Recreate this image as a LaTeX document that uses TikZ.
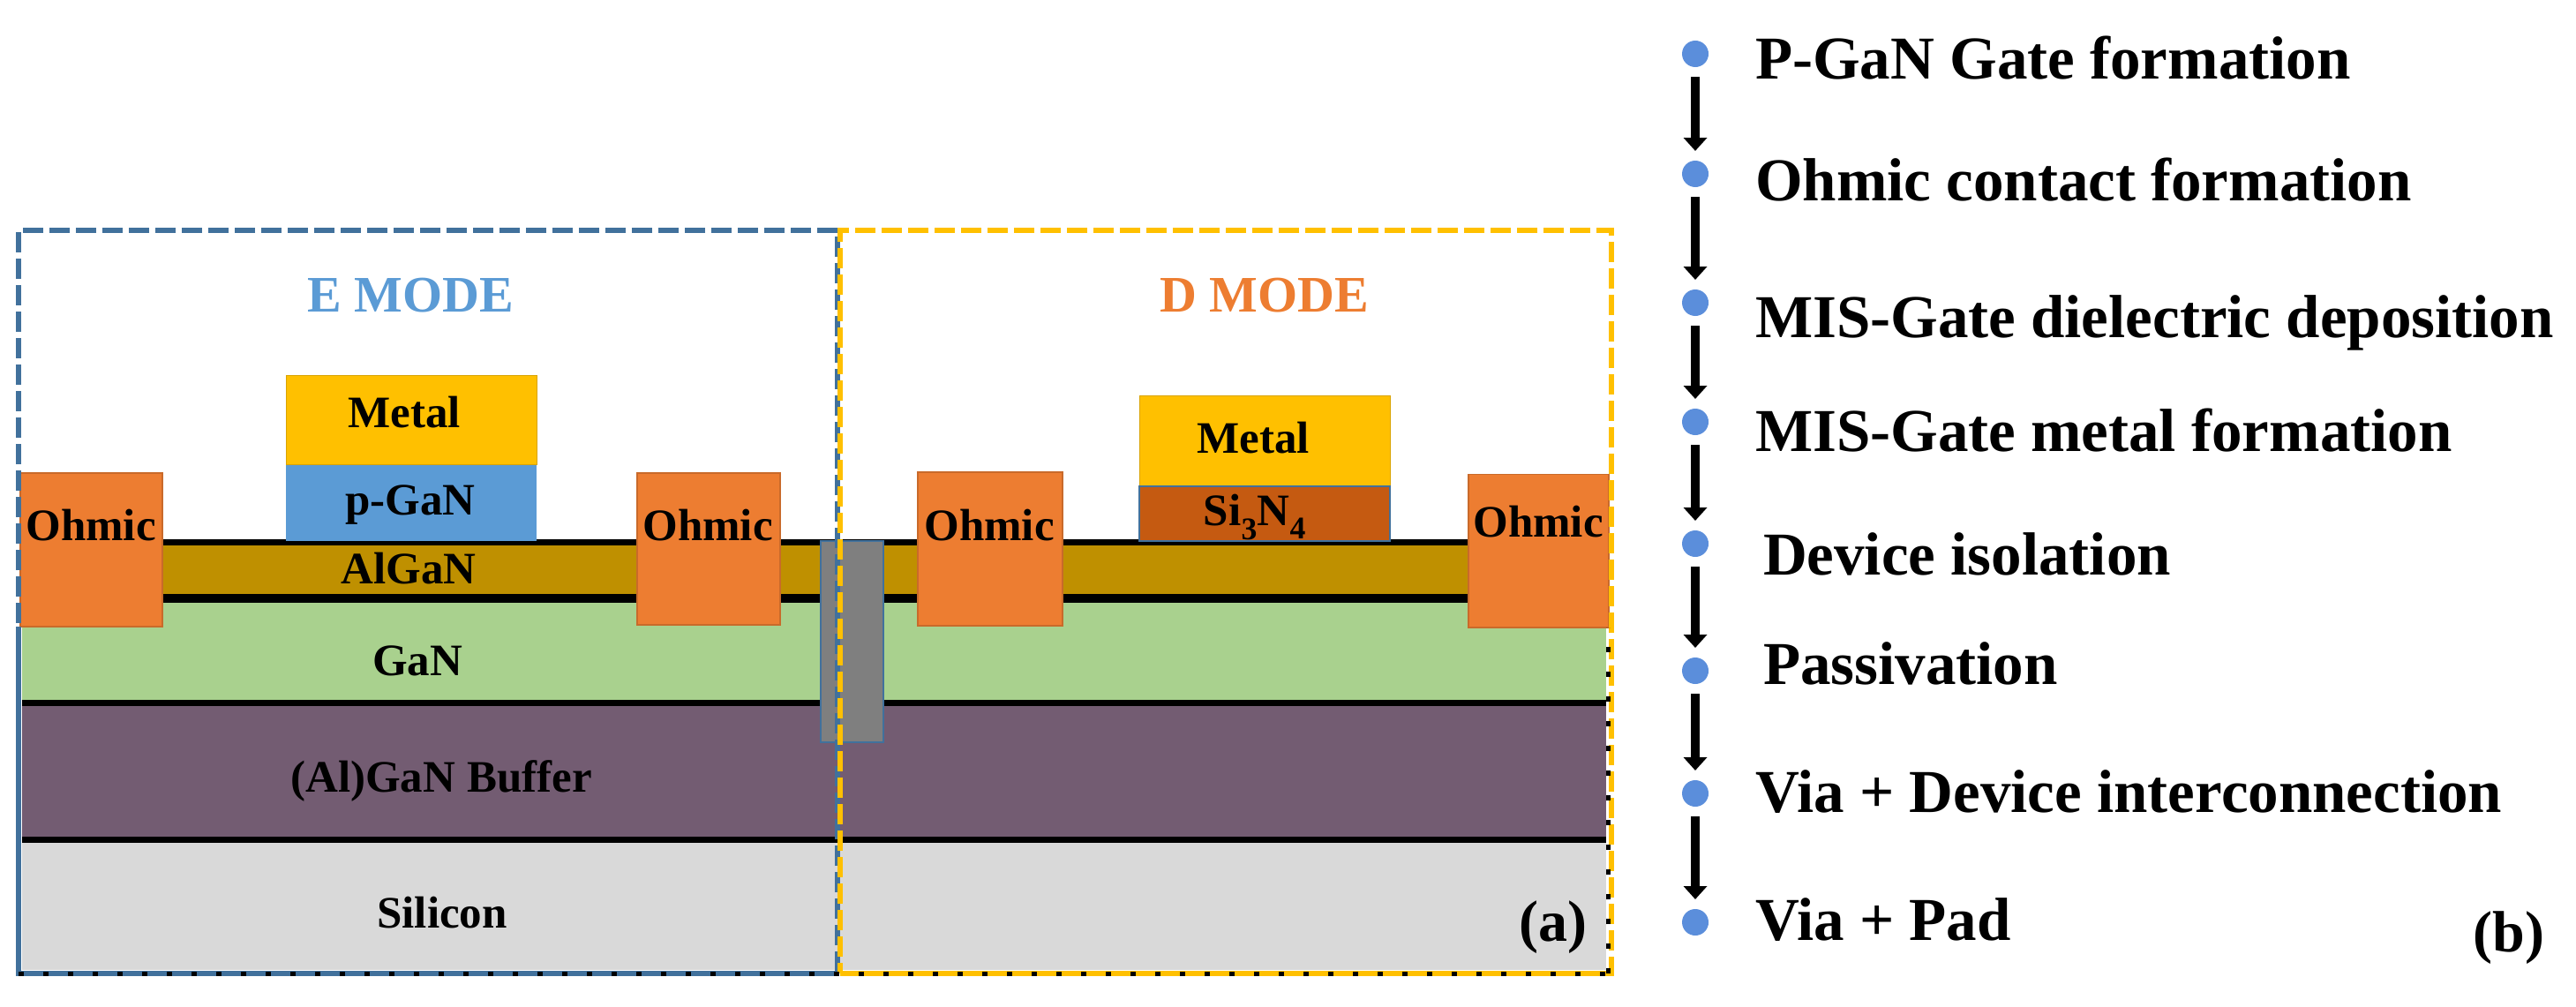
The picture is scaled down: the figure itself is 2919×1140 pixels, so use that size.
\documentclass[tikz,border=0pt]{standalone}
\usepackage{fontspec}
\setmainfont{Liberation Serif}
\usepackage{tikz}
\usetikzlibrary{positioning,arrows.meta,shapes}

\definecolor{metalcol}{HTML}{FFC000}
\definecolor{pgancol}{HTML}{5B9BD5}
\definecolor{ohmiccol}{HTML}{ED7D31}
\definecolor{algancol}{HTML}{BF9000}
\definecolor{gancol}{HTML}{A9D18E}
\definecolor{buffercol}{HTML}{735C72}
\definecolor{siliconcol}{HTML}{D9D9D9}
\definecolor{nitridecol}{HTML}{C55A11}
\definecolor{viacol}{HTML}{7F7F7F}
\definecolor{framecol}{HTML}{41719C}
\definecolor{dotcol}{HTML}{5B8EDB}

\begin{document}
\begin{tikzpicture}[
  x=1pt, y=-1pt,
  every node/.style={inner sep=0pt, outer sep=0pt},
  layer/.style={rectangle, minimum width=#1},
  layer/.default=1795pt,
  contact/.style={rectangle, fill=ohmiccol, draw=ohmiccol!85!black, line width=1.5pt},
  gate/.style={rectangle, minimum width=284pt},
  isolation/.style={rectangle, fill=viacol, draw=framecol, line width=2pt},
  interface/.style={line width=7pt, black},
  eframe/.style={rectangle, draw=framecol, line width=5.5pt, dash pattern=on 23pt off 7pt},
  dframe/.style={rectangle, draw=metalcol, line width=5.5pt, dash pattern=on 23pt off 7pt},
  dots/.style={line width=5pt, black, dash pattern=on 6pt off 22pt},
  txt/.style={font=\fontsize{51}{60}\selectfont\bfseries, text=black},
  mode/.style={font=\fontsize{58}{66}\selectfont\bfseries},
  stepdot/.style={circle, fill=dotcol, minimum size=30pt},
  steptxt/.style={anchor=base west, font=\fontsize{69}{80}\selectfont\bfseries},
  panel/.style={font=\fontsize{66}{76}\selectfont\bfseries},
  arrow/.style={-{Triangle[width=26pt,length=15pt]}, line width=10pt, black, shorten <=11pt, shorten >=11pt}
]
\useasboundingbox (0,0) rectangle (2919,1140);

% Epitaxial stack
\node[layer, fill=siliconcol, minimum height=147.5pt] (Silicon) at (922.5,1025.25) {};
\node[layer, fill=buffercol, minimum height=155pt] (Buffer) at (922.5,874) {};
\node[layer, fill=gancol, minimum height=118.5pt] (GaN) at (922.5,737.25) {};
\node[layer=1480pt, fill=algancol, minimum height=63.5pt] (AlGaN) at (924,646.25) {};

% Black interfaces
\draw[interface] (Silicon.north west) -- (Silicon.north east);
\draw[interface] (Buffer.north west) -- (Buffer.north east);
\draw[interface, line width=9.5pt] (AlGaN.south west) -- (AlGaN.south east);
\draw[interface] (AlGaN.north west) -- (AlGaN.north east);

% Ohmic contacts
\node[contact, minimum width=161pt, minimum height=174pt] (OhmicA) at (103.5,623) {};
\node[contact, minimum width=162pt, minimum height=172pt] (OhmicB) at (803,622) {};
\node[contact, minimum width=164pt, minimum height=174pt] (OhmicC) at (1122,622) {};
\node[contact, minimum width=159pt, minimum height=173.5pt] (OhmicD) at (1743.5,624.25) {};

% E mode gate
\node[gate, fill=metalcol, draw=metalcol!85!black, line width=1pt, minimum height=101pt] (MetalE) at (466,476) {};
\node[gate, fill=pgancol, minimum height=86.5pt] (PGaN) at (466,569.75) {};

% D mode gate
\node[gate, fill=metalcol, draw=metalcol!85!black, line width=1pt, minimum height=102.5pt] (MetalD) at (1433,499.75) {};
\node[gate, fill=nitridecol, draw=framecol, line width=2pt, minimum height=62pt] (SiN) at (1433,582) {};

% Isolation trench
\node[isolation, minimum width=71pt, minimum height=228pt] (Via) at (965.5,727) {};

% Frames
\node[rectangle, minimum width=928pt, minimum height=842pt] (FrameE) at (485,682) {};
\node[rectangle, minimum width=874pt, minimum height=842pt] (FrameD) at (1389,682) {};
\draw[line width=5.5pt, framecol] (FrameE.south west |- OhmicA.south) -- (FrameE.south west) -- (FrameE.south east);
\draw[line width=5.5pt, metalcol] (FrameD.south west) -- (FrameD.south east);
\node[eframe, minimum width=928pt, minimum height=842pt] at (FrameE) {};
\node[dframe, minimum width=874pt, minimum height=842pt] at (FrameD) {};
\draw[dots] (FrameE.south west) -- (FrameD.south east);
\draw[dots] ([xshift=-4pt]FrameD.south east) -- ([xshift=-4pt]FrameD.south east |- OhmicD.south);

% Layer labels
\node[txt] (lSilicon) at (501,1034) {Silicon};
\node[txt] (lBuffer) at (500,885) {(Al)GaN Buffer};
\node[txt] (lGaN) at (473,749) {GaN};
\node[txt] (lAlGaN) at (463,644) {AlGaN};
\node[txt] (lOhmicA) at (103,595) {Ohmic};
\node[txt] (lOhmicB) at (802,595) {Ohmic};
\node[txt] (lOhmicC) at (1121,595) {Ohmic};
\node[txt] (lOhmicD) at (1743,591) {Ohmic};
\node[txt] (lMetalE) at (458,467) {Metal};
\node[txt] (lPGaN) at (465,572) {p-GaN};
\node[txt] (lMetalD) at (1420,496) {Metal};
\node[txt] (lSiN) at (1422,586) {Si\textsubscript{3}N\textsubscript{4}};
\node[mode, text=pgancol] (lModeE) at (465,335) {E MODE};
\node[mode, text=ohmiccol] (lModeD) at (1433,335) {D MODE};
\node[panel] (lPanelA) at (1760,1051) {(a)};

% Process flow
\node[stepdot] (S1) at (1921,61) {};
\node[stepdot] (S2) at (1921,197) {};
\node[stepdot] (S3) at (1921,343) {};
\node[stepdot] (S4) at (1921,478) {};
\node[stepdot] (S5) at (1921,616) {};
\node[stepdot] (S6) at (1921,760) {};
\node[stepdot] (S7) at (1921,899) {};
\node[stepdot] (S8) at (1921,1045) {};

\draw[arrow] (S1) -- (S2);
\draw[arrow] (S2) -- (S3);
\draw[arrow] (S3) -- (S4);
\draw[arrow] (S4) -- (S5);
\draw[arrow] (S5) -- (S6);
\draw[arrow] (S6) -- (S7);
\draw[arrow] (S7) -- (S8);

\node[steptxt] (T1) at (1989,89) {P-GaN Gate formation};
\node[steptxt] (T2) at (1989,227) {Ohmic contact formation};
\node[steptxt] (T3) at (1989,382) {MIS-Gate dielectric deposition};
\node[steptxt] (T4) at (1989,511) {MIS-Gate metal formation};
\node[steptxt] (T5) at (1998,651) {Device isolation};
\node[steptxt] (T6) at (1998,775) {Passivation};
\node[steptxt] (T7) at (1989,920) {Via + Device interconnection};
\node[steptxt] (T8) at (1989,1065) {Via + Pad};
\node[panel] (lPanelB) at (2843,1063) {(b)};

\end{tikzpicture}
\end{document}
